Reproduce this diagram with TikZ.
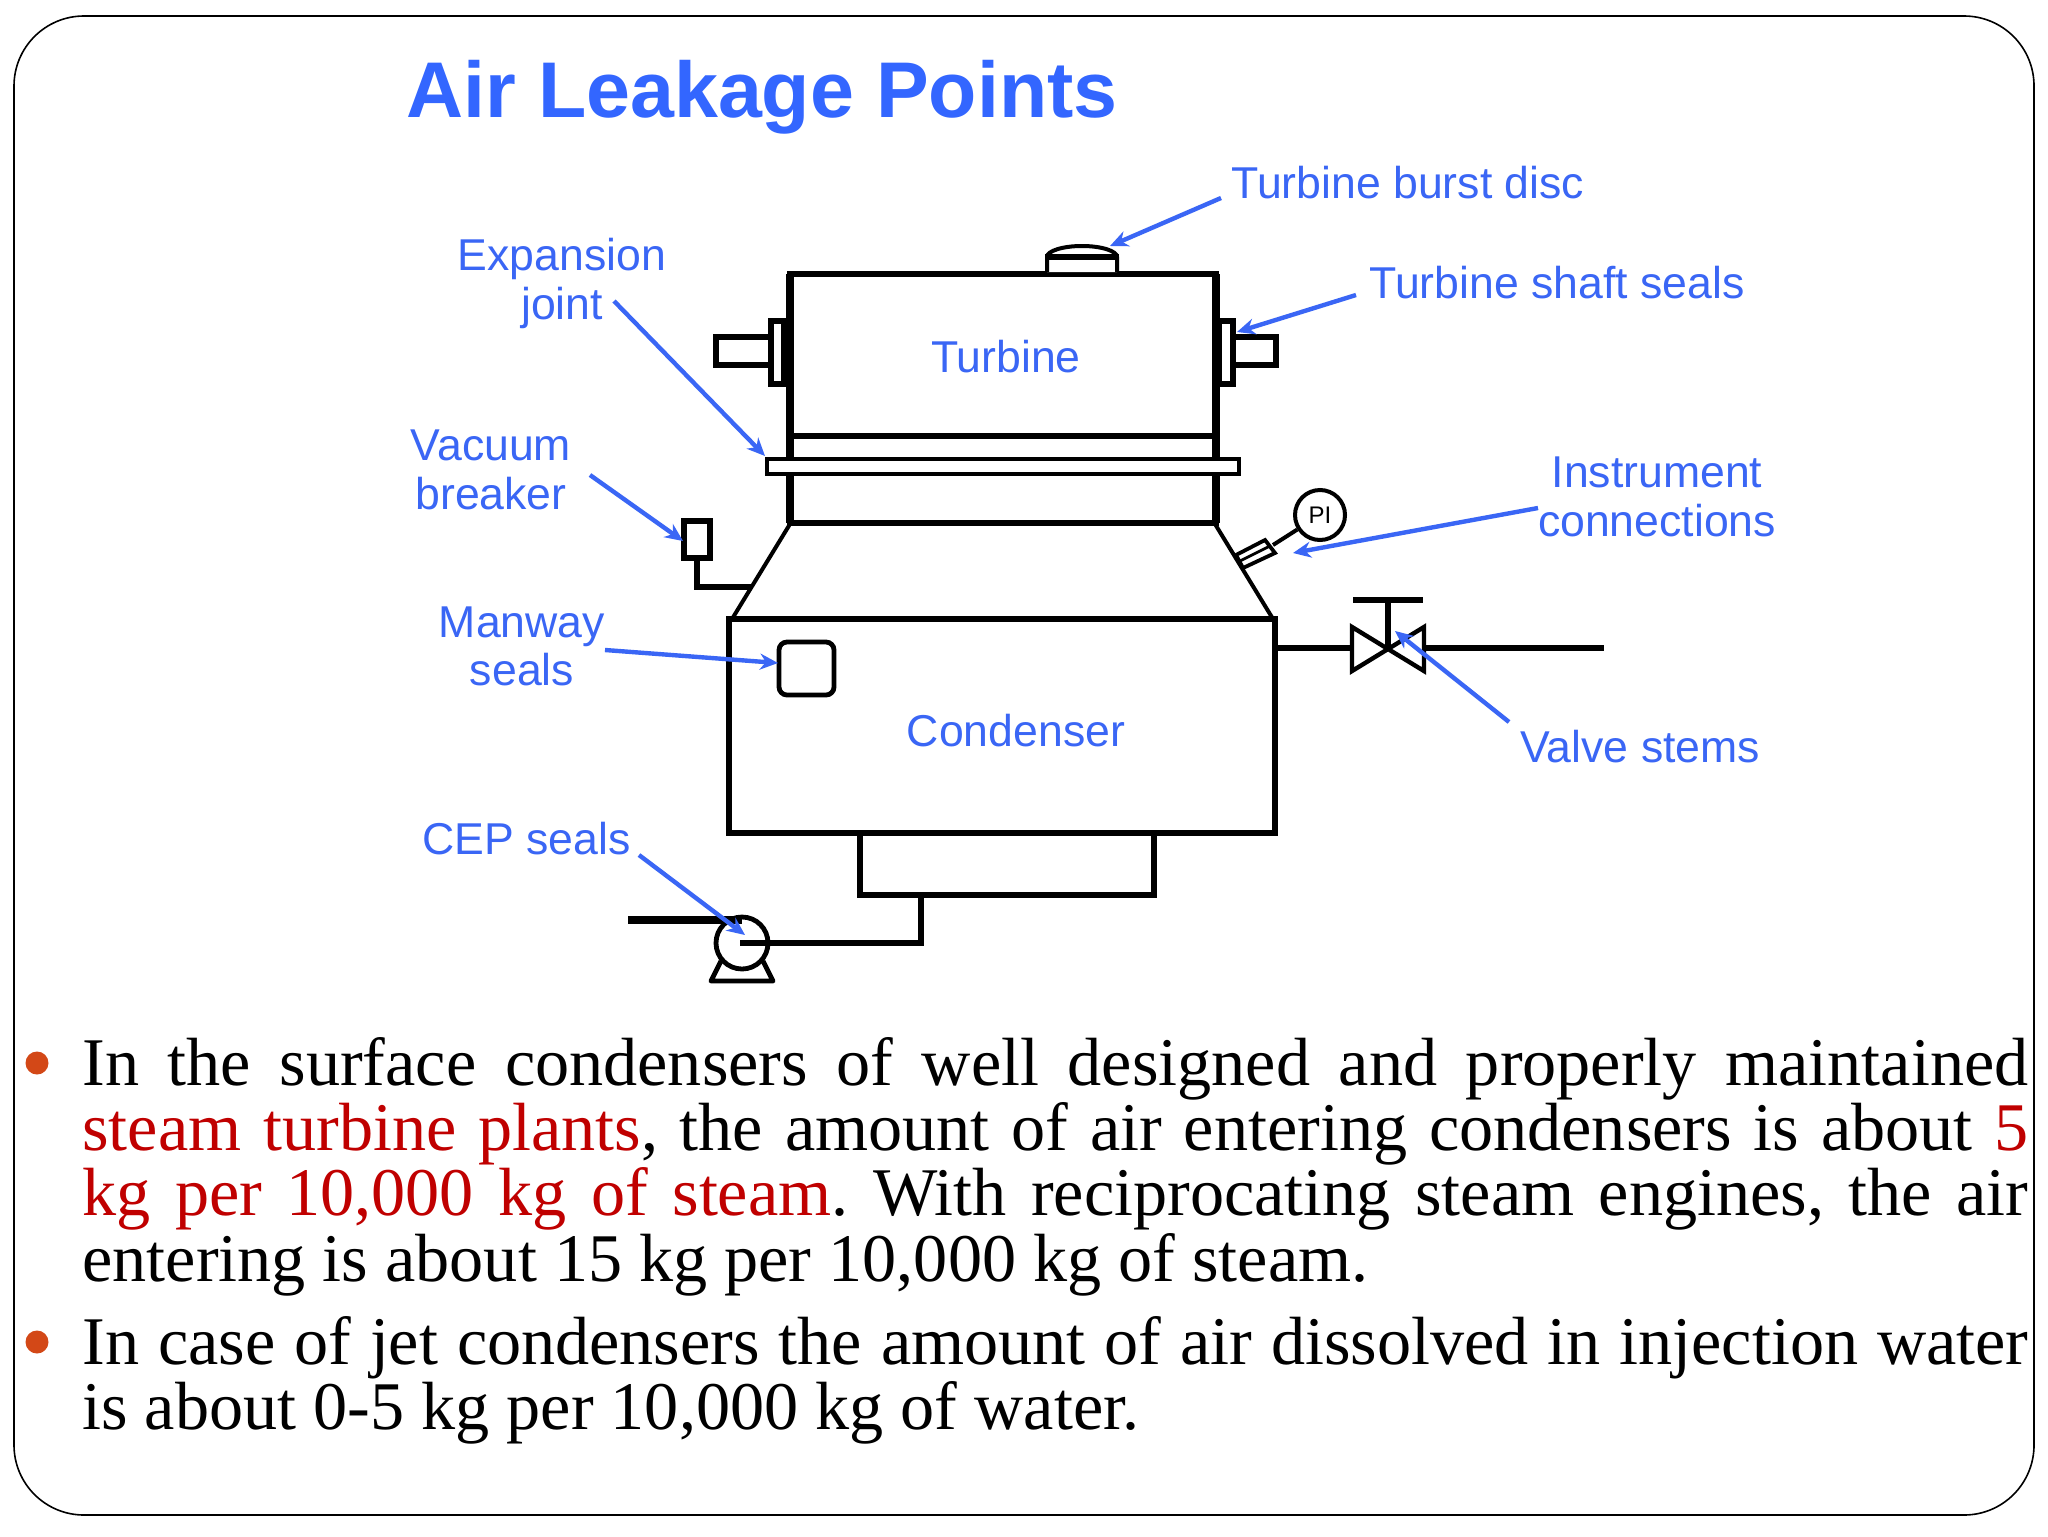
\documentclass[tikz,border=0pt]{standalone}
\usepackage{fontspec}
\setmainfont{Liberation Serif}
\newfontfamily\arialf{Liberation Sans}
\usetikzlibrary{arrows.meta}
\definecolor{lblue}{RGB}{58,102,245}
\definecolor{tblue}{RGB}{51,102,255}
\definecolor{dred}{RGB}{192,0,0}
\definecolor{orng}{RGB}{211,72,23}
\tikzset{
  x=0.5pt,y=-0.5pt,
  unit/.style={draw=black,line width=3.2pt,fill=white,line join=miter},
  pipe/.style={draw=black,line width=3.1pt,line join=miter},
  thinp/.style={draw=black,line width=2pt,line join=miter},
  lbl/.style={font=\arialf\fontsize{22.3}{22.3}\selectfont,text=lblue,inner sep=0pt,anchor=base},
  lblw/.style={lbl,anchor=base west},
  ptr/.style={draw=lblue,line width=2.2pt,-{Stealth[length=9pt,width=8pt]}},
  para/.style={inner sep=0pt,anchor=base west,text=black},
  dot/.style={circle,fill=orng,minimum size=11.5pt,inner sep=0pt},
}
\newcommand{\bodytext}[1]{\begin{minipage}[t]{973pt}\fontsize{34.1}{32.7}\selectfont\frenchspacing\hyphenpenalty=10000\emergencystretch=20pt\sloppy #1\end{minipage}}
\begin{document}
\begin{tikzpicture}
\useasboundingbox (0,0) rectangle (2048,1536);
\fill[white] (0,0) rectangle (2048,1536);
\draw[black,line width=0.8pt,rounded corners=35pt] (14,16) rectangle (2034,1515);
\node[inner sep=0pt,anchor=base west,text=tblue,font=\arialf\bfseries\fontsize{39.5}{40}\selectfont] (title) at (406,118) {Air Leakage Points};
% Turbine
\path[unit] (790,274) rectangle (1216,523);
\draw[pipe] (790,436) -- (1216,436);
\draw[draw=black,line width=4pt] (790,274) -- (790,523);
\draw[draw=black,line width=4pt] (1216,274) -- (1216,523);
\draw[thinp,fill=white] (1047,272) -- (1047,257) arc[start angle=180,end angle=360,x radius=35,y radius=11] -- (1117,272);
\draw[thinp,line width=2.6pt] (1045,257) -- (1119,257);
\path[unit] (771,321) rectangle (784,384);
\path[unit] (716,337) rectangle (771,365);
\path[unit] (1219,321) rectangle (1233,384);
\path[unit] (1233,337) rectangle (1276,365);
\draw[draw=black,line width=2.2pt,fill=white] (767,459) rectangle (1239,474);
% Cone and condenser
\draw[thinp] (790,524) -- (732,619);
\draw[thinp] (1215,524) -- (1273,619);
\path[unit,line width=2.9pt] (729,619) rectangle (1275,833);
\path[unit,line width=2.9pt] (860,833) rectangle (1154,895);
\draw[thinp,rounded corners=4pt,line width=2.4pt] (779,642) rectangle (834,695);
% Vacuum breaker
\path[unit] (684,521) rectangle (710,558);
\draw[pipe,line width=2.6pt] (697,558) -- (697,587) -- (751,587);
% Instrument
\draw[thinp,line width=1.9pt] (1236,555) -- (1265,540) -- (1275,553) -- (1243,568) -- cycle;
\draw[thinp,line width=1.4pt] (1240,561) -- (1270,546);
\node[circle,draw=black,line width=2pt,fill=white,minimum size=25pt,inner sep=0pt,font=\arialf\fontsize{12}{12}\selectfont] (pi) at (1320,515) {PI};
\draw[thinp] (pi) -- (1273,545);
% Valve
\draw[pipe,line width=2.7pt] (1275,648) -- (1352,648);
\draw[pipe,line width=2.7pt] (1424,648) -- (1604,648);
\draw[thinp,line width=2.2pt] (1352,627) -- (1424,671) -- (1424,627) -- (1352,671) -- cycle;
\draw[pipe] (1388,648) -- (1388,600);
\draw[pipe,line width=3pt] (1353,600) -- (1423,600);
% Pump
\draw[pipe] (921,895) -- (921,943) -- (740,943);
\draw[pipe,line width=4pt] (628,920) -- (742,920);
\node[circle,draw=black,line width=2.4pt,minimum size=26pt,inner sep=0pt] (pump) at (742,943) {};
\draw[thinp,line width=2.4pt,line join=round] (721,961) -- (711,981) -- (773,981) -- (763,961);
% Labels
\node[lbl] (turb) at (1006,372) {Turbine};
\node[lbl] (cond) at (1016,746) {Condenser};
\node[lblw] (burst) at (1231,198) {Turbine burst disc};
\node[lblw] (shaft) at (1369,298) {Turbine shaft seals};
\node[lbl] (exp1) at (562,270) {Expansion};
\node[lbl] (exp2) at (562,319) {joint};
\node[lbl] (vac1) at (491,460) {Vacuum};
\node[lbl] (vac2) at (491,509) {breaker};
\node[lbl] (man1) at (522,637) {Manway};
\node[lbl] (man2) at (522,685) {seals};
\node[lblw] (cep) at (422,854) {CEP seals};
\node[lbl] (ins1) at (1657,487) {Instrument};
\node[lbl] (ins2) at (1657,536) {connections};
\node[lblw] (vlv) at (1520,762) {Valve stems};
% Pointer ends
\coordinate (aBurstS) at (1221,198); \coordinate (aBurstE) at (1110,246);
\coordinate (aShaftS) at (1356,295); \coordinate (aShaftE) at (1237,332);
\coordinate (aExpS) at (614,301); \coordinate (aExpE) at (765,456);
\coordinate (aVacS) at (590,475); \coordinate (aVacE) at (683,541);
\coordinate (aManS) at (605,650); \coordinate (aManE) at (778,663);
\coordinate (aCepS) at (639,855); \coordinate (aCepE) at (745,935);
\coordinate (aInsS) at (1538,508); \coordinate (aInsE) at (1293,553);
\coordinate (aVlvS) at (1509,722); \coordinate (aVlvE) at (1395,631);
\draw[ptr] (aBurstS) -- (aBurstE);
\draw[ptr] (aShaftS) -- (aShaftE);
\draw[ptr] (aExpS) -- (aExpE);
\draw[ptr] (aVacS) -- (aVacE);
\draw[ptr] (aManS) -- (aManE);
\draw[ptr] (aCepS) -- (aCepE);
\draw[ptr] (aInsS) -- (aInsE);
\draw[ptr] (aVlvS) -- (aVlvE);
% Body
\node[dot] (b1) at (37,1063) {};
\node[dot] (b2) at (37,1342) {};
\node[para] (p1) at (82,1085) {\bodytext{In the surface condensers of well designed and properly maintained\linebreak \textcolor{dred}{steam turbine plants}, the amount of air entering condensers is about \textcolor{dred}{5\linebreak kg per 10,000 kg of steam}. With reciprocating steam engines, the air\linebreak entering is about 15 kg per 10,000 kg of steam.}};
\node[para] (p2) at (82,1364) {\bodytext{In case of jet condensers the amount of air dissolved in injection water\linebreak is about 0-5 kg per 10,000 kg of water.}};
\end{tikzpicture}
\end{document}
